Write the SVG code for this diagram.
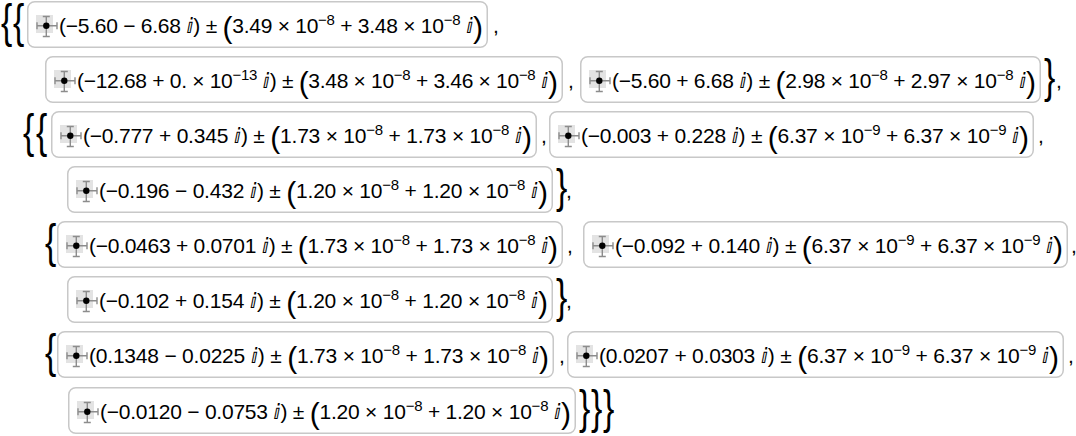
<svg xmlns="http://www.w3.org/2000/svg" width="1076" height="436" viewBox="0 0 1076 436">
<style>
.bx{fill:#fff;stroke:#c8c8c8;stroke-width:1.5}
.t{font-family:"Liberation Sans","DejaVu Sans",sans-serif;font-size:21px;fill:#000}
.sup{font-size:15px}
.bp{font-size:30px}
.br{font-family:"Liberation Sans","DejaVu Sans",sans-serif;font-size:47px;fill:#000}
</style>
<defs>
<g id="ico">
<rect x="9" y="14" width="17" height="18" fill="#e3e3e3"/>
<path d="M19.3 15.5V35.5M15.8 15.5H22.8M15.8 35.5H22.8M10 24.7H30M10 21.2V28.2M30 21.2V28.2" stroke="#8c8c8c" stroke-width="1.4" fill="none"/>
<circle cx="19.3" cy="24.7" r="3.2" fill="#000"/>
</g>
</defs>
<g id="punct">
<text class="br" transform="translate(1,37) scale(0.72,1)">{</text><text class="br" transform="translate(13,37) scale(0.72,1)">{</text>
<text class="t" x="493" y="33">,</text>
<text class="t" x="568" y="88">,</text>
<text class="br" transform="translate(1044,92) scale(0.72,1)">}</text><text class="t" x="1056" y="88">,</text>
<text class="br" transform="translate(23,147) scale(0.72,1)">{</text><text class="br" transform="translate(36,147) scale(0.72,1)">{</text>
<text class="t" x="541" y="143">,</text>
<text class="t" x="1038" y="143">,</text>
<text class="br" transform="translate(556,202) scale(0.72,1)">}</text><text class="t" x="566" y="198">,</text>
<text class="br" transform="translate(45,257) scale(0.72,1)">{</text>
<text class="t" x="567" y="253">,</text>
<text class="t" x="1071" y="253">,</text>
<text class="br" transform="translate(556,312) scale(0.72,1)">}</text><text class="t" x="566" y="308">,</text>
<text class="br" transform="translate(45,367) scale(0.72,1)">{</text>
<text class="t" x="559" y="363">,</text>
<text class="t" x="1068" y="363">,</text>
<text class="br" transform="translate(579,423) scale(0.72,1)">}</text><text class="br" transform="translate(591,423) scale(0.72,1)">}</text><text class="br" transform="translate(603,423) scale(0.72,1)">}</text>
</g>
<g id="r1">
<rect class="bx" x="27.75" y="1.75" width="459.5" height="45.5" rx="7"/>
<use href="#ico" x="27" y="1"/>
<text class="t" x="59" y="33" textLength="424" lengthAdjust="spacing">(−5.60 − 6.68 ⅈ) ± <tspan class="bp" dy="5">(</tspan><tspan dy="-5">3.49 × 10</tspan><tspan class="sup" dy="-8">−8</tspan><tspan dy="8"> + 3.48 × 10</tspan><tspan class="sup" dy="-8">−8</tspan><tspan dy="8"> ⅈ</tspan><tspan class="bp" dy="5">)</tspan></text>
</g>
<g id="r2a">
<rect class="bx" x="45.75" y="56.75" width="516.5" height="45.5" rx="7"/>
<use href="#ico" x="45" y="56"/>
<text class="t" x="77" y="88" textLength="481" lengthAdjust="spacing">(−12.68 + 0. × 10<tspan class="sup" dy="-8">−13</tspan><tspan dy="8"> ⅈ) ± </tspan><tspan class="bp" dy="5">(</tspan><tspan dy="-5">3.48 × 10</tspan><tspan class="sup" dy="-8">−8</tspan><tspan dy="8"> + 3.46 × 10</tspan><tspan class="sup" dy="-8">−8</tspan><tspan dy="8"> ⅈ</tspan><tspan class="bp" dy="5">)</tspan></text>
</g>
<g id="r2b">
<rect class="bx" x="580.75" y="56.75" width="459.5" height="45.5" rx="7"/>
<use href="#ico" x="580" y="56"/>
<text class="t" x="612" y="88" textLength="424" lengthAdjust="spacing">(−5.60 + 6.68 ⅈ) ± <tspan class="bp" dy="5">(</tspan><tspan dy="-5">2.98 × 10</tspan><tspan class="sup" dy="-8">−8</tspan><tspan dy="8"> + 2.97 × 10</tspan><tspan class="sup" dy="-8">−8</tspan><tspan dy="8"> ⅈ</tspan><tspan class="bp" dy="5">)</tspan></text>
</g>
<g id="r3a">
<rect class="bx" x="51.75" y="111.75" width="484.5" height="45.5" rx="7"/>
<use href="#ico" x="51" y="111"/>
<text class="t" x="83" y="143" textLength="449" lengthAdjust="spacing">(−0.777 + 0.345 ⅈ) ± <tspan class="bp" dy="5">(</tspan><tspan dy="-5">1.73 × 10</tspan><tspan class="sup" dy="-8">−8</tspan><tspan dy="8"> + 1.73 × 10</tspan><tspan class="sup" dy="-8">−8</tspan><tspan dy="8"> ⅈ</tspan><tspan class="bp" dy="5">)</tspan></text>
</g>
<g id="r3b">
<rect class="bx" x="549.75" y="111.75" width="483.5" height="45.5" rx="7"/>
<use href="#ico" x="549" y="111"/>
<text class="t" x="581" y="143" textLength="448" lengthAdjust="spacing">(−0.003 + 0.228 ⅈ) ± <tspan class="bp" dy="5">(</tspan><tspan dy="-5">6.37 × 10</tspan><tspan class="sup" dy="-8">−9</tspan><tspan dy="8"> + 6.37 × 10</tspan><tspan class="sup" dy="-8">−9</tspan><tspan dy="8"> ⅈ</tspan><tspan class="bp" dy="5">)</tspan></text>
</g>
<g id="r4">
<rect class="bx" x="67.75" y="166.75" width="484.5" height="45.5" rx="7"/>
<use href="#ico" x="67" y="166"/>
<text class="t" x="99" y="198" textLength="449" lengthAdjust="spacing">(−0.196 − 0.432 ⅈ) ± <tspan class="bp" dy="5">(</tspan><tspan dy="-5">1.20 × 10</tspan><tspan class="sup" dy="-8">−8</tspan><tspan dy="8"> + 1.20 × 10</tspan><tspan class="sup" dy="-8">−8</tspan><tspan dy="8"> ⅈ</tspan><tspan class="bp" dy="5">)</tspan></text>
</g>
<g id="r5a">
<rect class="bx" x="57.75" y="221.75" width="504.5" height="45.5" rx="7"/>
<use href="#ico" x="57" y="221"/>
<text class="t" x="89" y="253" textLength="469" lengthAdjust="spacing">(−0.0463 + 0.0701 ⅈ) ± <tspan class="bp" dy="5">(</tspan><tspan dy="-5">1.73 × 10</tspan><tspan class="sup" dy="-8">−8</tspan><tspan dy="8"> + 1.73 × 10</tspan><tspan class="sup" dy="-8">−8</tspan><tspan dy="8"> ⅈ</tspan><tspan class="bp" dy="5">)</tspan></text>
</g>
<g id="r5b">
<rect class="bx" x="583.75" y="221.75" width="483.5" height="45.5" rx="7"/>
<use href="#ico" x="583" y="221"/>
<text class="t" x="615" y="253" textLength="448" lengthAdjust="spacing">(−0.092 + 0.140 ⅈ) ± <tspan class="bp" dy="5">(</tspan><tspan dy="-5">6.37 × 10</tspan><tspan class="sup" dy="-8">−9</tspan><tspan dy="8"> + 6.37 × 10</tspan><tspan class="sup" dy="-8">−9</tspan><tspan dy="8"> ⅈ</tspan><tspan class="bp" dy="5">)</tspan></text>
</g>
<g id="r6">
<rect class="bx" x="67.75" y="276.75" width="484.5" height="45.5" rx="7"/>
<use href="#ico" x="67" y="276"/>
<text class="t" x="99" y="308" textLength="449" lengthAdjust="spacing">(−0.102 + 0.154 ⅈ) ± <tspan class="bp" dy="5">(</tspan><tspan dy="-5">1.20 × 10</tspan><tspan class="sup" dy="-8">−8</tspan><tspan dy="8"> + 1.20 × 10</tspan><tspan class="sup" dy="-8">−8</tspan><tspan dy="8"> ⅈ</tspan><tspan class="bp" dy="5">)</tspan></text>
</g>
<g id="r7a">
<rect class="bx" x="57.75" y="331.75" width="495.5" height="45.5" rx="7"/>
<use href="#ico" x="57" y="331"/>
<text class="t" x="89" y="363" textLength="460" lengthAdjust="spacing">(0.1348 − 0.0225 ⅈ) ± <tspan class="bp" dy="5">(</tspan><tspan dy="-5">1.73 × 10</tspan><tspan class="sup" dy="-8">−8</tspan><tspan dy="8"> + 1.73 × 10</tspan><tspan class="sup" dy="-8">−8</tspan><tspan dy="8"> ⅈ</tspan><tspan class="bp" dy="5">)</tspan></text>
</g>
<g id="r7b">
<rect class="bx" x="567.75" y="331.75" width="495.5" height="45.5" rx="7"/>
<use href="#ico" x="567" y="331"/>
<text class="t" x="599" y="363" textLength="460" lengthAdjust="spacing">(0.0207 + 0.0303 ⅈ) ± <tspan class="bp" dy="5">(</tspan><tspan dy="-5">6.37 × 10</tspan><tspan class="sup" dy="-8">−9</tspan><tspan dy="8"> + 6.37 × 10</tspan><tspan class="sup" dy="-8">−9</tspan><tspan dy="8"> ⅈ</tspan><tspan class="bp" dy="5">)</tspan></text>
</g>
<g id="r8">
<rect class="bx" x="68.75" y="387.75" width="506.5" height="45.5" rx="7"/>
<use href="#ico" x="68" y="387"/>
<text class="t" x="100" y="419" textLength="471" lengthAdjust="spacing">(−0.0120 − 0.0753 ⅈ) ± <tspan class="bp" dy="5">(</tspan><tspan dy="-5">1.20 × 10</tspan><tspan class="sup" dy="-8">−8</tspan><tspan dy="8"> + 1.20 × 10</tspan><tspan class="sup" dy="-8">−8</tspan><tspan dy="8"> ⅈ</tspan><tspan class="bp" dy="5">)</tspan></text>
</g>
</svg>
